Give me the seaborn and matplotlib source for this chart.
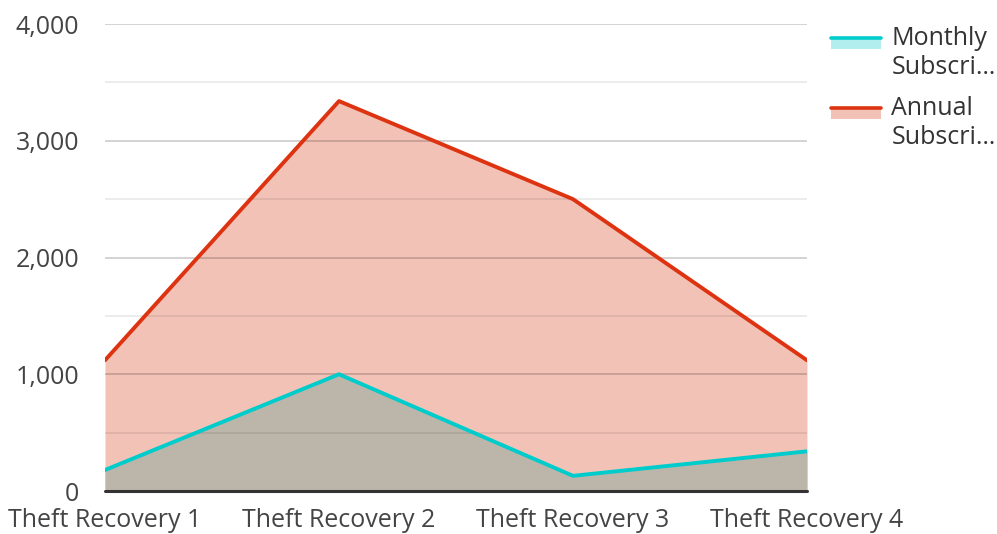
import pandas as pd
import numpy as np
import matplotlib
matplotlib.use("Agg")
import matplotlib.pyplot as plt
import seaborn as sns
from matplotlib.patches import Rectangle
from matplotlib.lines import Line2D
from matplotlib.legend_handler import HandlerBase

categories = ["Theft Recovery 1", "Theft Recovery 2", "Theft Recovery 3", "Theft Recovery 4"]
monthly = [180, 1000, 130, 340]
annual = [1120, 3340, 2500, 1120]
series_names = ["Monthly\nSubscri\u2026", "Annual\nSubscri\u2026"]
y_ticks = [0, 1000, 2000, 3000, 4000]
y_tick_labels = ["0", "1,000", "2,000", "3,000", "4,000"]

sns.set_style("white")
plt.rcParams["font.family"] = ["Open Sans", "DejaVu Sans"]

df = pd.DataFrame({
    "pos": list(range(len(categories))) * 2,
    "value": monthly + annual,
    "series": [series_names[0]] * len(categories) + [series_names[1]] * len(categories),
})

line_colors = {series_names[0]: "#00CCCC", series_names[1]: "#DD3311"}
fill_colors = {series_names[0]: "#BCB5AA", series_names[1]: "#F2C2B6"}
legend_fill = {series_names[0]: "#B2EEEE", series_names[1]: "#F2C2B6"}


class AreaHandle:
    def __init__(self, line_color, fill_color):
        self.line_color = line_color
        self.fill_color = fill_color


class AreaHandler(HandlerBase):
    # line sitting on top of a short filled band, aligned to the first text line
    def create_artists(self, legend, orig_handle, xdescent, ydescent, width, height,
                       fontsize, trans):
        center = height / 2 - ydescent
        top = center + 11.4
        rect = Rectangle((-xdescent, top - 8.0), width, 8.0,
                         facecolor=orig_handle.fill_color, edgecolor="none", transform=trans)
        line = Line2D([-xdescent, -xdescent + width], [top, top],
                      color=orig_handle.line_color, lw=2.6, transform=trans)
        return [rect, line]


fig = plt.figure(figsize=(9.97, 5.34), dpi=100)
ax = fig.add_axes([0.1053, 0.0805, 0.7041, 0.8745])

x = np.arange(len(categories))
ax.fill_between(x, annual, 0, color=fill_colors[series_names[1]], lw=0, zorder=1)
ax.fill_between(x, monthly, 0, color=fill_colors[series_names[0]], lw=0, zorder=2)

# grid lines on top of the fills, lighter at the half steps
for v in np.arange(500, 4001, 500):
    major = v % 1000 == 0
    ax.axhline(v, color="black", alpha=0.2 if major else 0.09, lw=1.2, zorder=3)

sns.lineplot(data=df, x="pos", y="value", hue="series", palette=line_colors,
             linewidth=2.8, ax=ax, legend=False, zorder=4)

ax.axhline(0, color="#333333", lw=2.2, zorder=5, clip_on=False)

ax.set_xlim(0, 3)
ax.set_ylim(0, 4000)
ax.set_xticks(x)
ax.set_xticklabels(categories)
ax.set_yticks(y_ticks)
ax.set_yticklabels(y_tick_labels)
ax.tick_params(axis="both", labelsize=18, colors="#444444", length=0)
ax.tick_params(axis="x", pad=12.5)
ax.tick_params(axis="y", pad=18.5)
ax.set_xlabel("")
ax.set_ylabel("")
sns.despine(ax=ax, left=True, bottom=True)

handles = [AreaHandle(line_colors[n], legend_fill[n]) for n in series_names]
fig.legend(handles, series_names, handler_map={AreaHandle: AreaHandler()},
           loc="upper left", bbox_to_anchor=(0.834, 0.951), frameon=False,
           fontsize=18, labelcolor="#333333", handlelength=2.0, handleheight=1.0,
           labelspacing=0.65, handletextpad=0.4, borderaxespad=0, borderpad=0)

fig.savefig("out.png", dpi=100)
